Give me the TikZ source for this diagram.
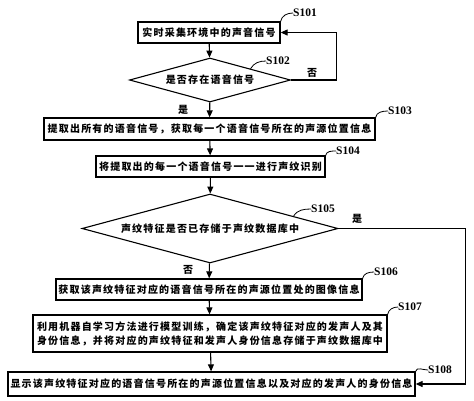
\documentclass[tikz,border=0pt]{standalone}
\usepackage{fontspec}
\setmainfont{Liberation Serif}
\newfontfamily\cjk[LetterSpace=12]{Noto Sans CJK SC}
\usetikzlibrary{arrows.meta,calc,shapes.geometric}
\tikzset{
  box/.style={draw, line width=1.3pt, inner sep=0pt, align=center, font=\cjk\bfseries\fontsize{10}{14}\selectfont},
  decide/.style={draw, diamond, aspect=3.7, line width=1.1pt, inner sep=0pt, font=\cjk\bfseries\fontsize{10}{14}\selectfont},
  arr/.style={line width=1.1pt, -{Triangle[length=7pt,width=6pt]}},
  tag/.style={font=\fontsize{11.5}{12}\selectfont\bfseries, inner sep=0pt, anchor=west},
  tick/.style={line width=0.8pt},
  yesno/.style={font=\cjk\bfseries\fontsize{10}{12}\selectfont, inner sep=0pt}
}
\begin{document}
\begin{tikzpicture}[x=1pt, y=-1pt]
			%%%%% START %%%%%
			\useasboundingbox (0, 0) rectangle (474, 400);
			
			\node[box, minimum width=142pt, minimum height=21pt] (s101) at (209, 32.5) {实时采集环境中的声音信号};
			\node[decide, minimum width=161pt, minimum height=44pt] (s102) at (210, 80) {是否存在语音信号};
			\node[box, minimum width=331pt, minimum height=22pt] (s103) at (209.5, 129) {提取出所有的语音信号，获取每一个语音信号所在的声源位置信息};
			\node[box, minimum width=229pt, minimum height=21pt] (s104) at (210.5, 166.5) {将提取出的每一个语音信号一一进行声纹识别};
			\node[decide, minimum width=256pt, minimum height=69pt] (s105) at (210, 228.5) {声纹特征是否已存储于声纹数据库中};
			\node[box, minimum width=306pt, minimum height=21pt] (s106) at (209, 289.5) {获取该声纹特征对应的语音信号所在的声源位置处的图像信息};
			\node[box, minimum width=354pt, minimum height=37pt] (s107) at (210, 333.5) {利用机器自学习方法进行模型训练，确定该声纹特征对应的发声人及其\\身份信息，并将对应的声纹特征和发声人身份信息存储于声纹数据库中};
			\node[box, minimum width=407pt, minimum height=24pt] (s108) at (211.5, 384) {显示该声纹特征对应的语音信号所在的声源位置信息以及对应的发声人的身份信息};
			
			% main flow
			\draw[arr] (s101) -- (s102);
			\draw[arr] (s102) -- (s103);
			\draw[arr] (s103) -- (s104);
			\draw[arr] (s104) -- (s105);
			\draw[arr] (s105) -- (s106);
			\draw[arr] (s106) -- (s107);
			\draw[arr] (s107) -- (s108);
			
			% loops
			\draw[arr] (s102.east) -- ++(45, 0) |- (s101.east);
			\draw[arr] (s105.east) -- ++(127, 0) |- (s108.east);
			
			\node[yesno] (no1) at (312, 73) {否};
			\node[yesno] (yes1) at (183, 110) {是};
			\node[yesno] (yes2) at (357, 219) {是};
			\node[yesno] (no2) at (188, 270) {否};
			
			% step tags
			\node[tag] (t101) at (293, 13) {S101};
			\node[tag] (t102) at (266, 61) {S102};
			\node[tag] (t103) at (388, 111) {S103};
			\node[tag] (t104) at (336, 151) {S104};
			\node[tag] (t105) at (311, 209) {S105};
			\node[tag] (t106) at (374, 272) {S106};
			\node[tag] (t107) at (398, 307) {S107};
			\node[tag] (t108) at (428, 370) {S108};
			
			\draw[tick] (s101.north east) to[out=80, in=180] (t101.west);
			\draw[tick] ($(s102.north)!0.5!(s102.east)$) to[out=60, in=180] (t102.west);
			\draw[tick] (s103.north east) to[out=80, in=180] (t103.west);
			\draw[tick] (s104.north east) to[out=80, in=180] (t104.west);
			\draw[tick] ($(s105.north)!0.65!(s105.east)$) to[out=60, in=180] (t105.west);
			\draw[tick] (s106.north east) to[out=80, in=180] (t106.west);
			\draw[tick] (s107.north east) to[out=80, in=180] (t107.west);
			\draw[tick] (s108.north east) to[out=80, in=180] (t108.west);
			
			%%%%% END %%%%%
\end{tikzpicture}
\end{document}
